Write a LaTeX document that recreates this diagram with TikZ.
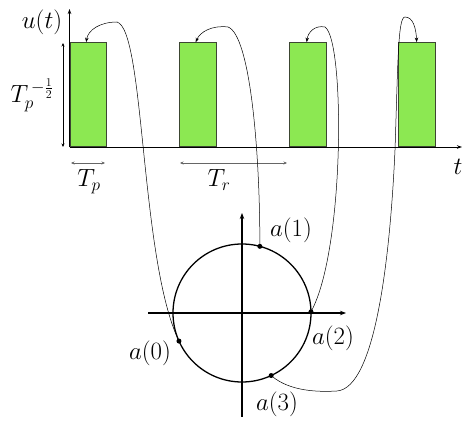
\documentclass[tikz,border=0pt]{standalone}
\usetikzlibrary{arrows.meta,calc}
\definecolor{bargreen}{RGB}{140,232,82}
\definecolor{barline}{RGB}{60,70,50}
\begin{document}
\begin{tikzpicture}[x=1pt,y=-1pt,
  bar/.style={draw=barline,fill=bargreen,line width=0.9pt},
  axis/.style={line width=0.9pt,-{Stealth[length=5pt,width=3.5pt]}},
  caxis/.style={line width=1.3pt,-{Stealth[length=6pt,width=4.5pt]}},
  link/.style={line width=0.5pt,-{Stealth[length=4.5pt,width=3.5pt]}},
  dim/.style={line width=0.5pt,draw=black!60,{Stealth[length=3.5pt,width=3pt]}-{Stealth[length=3.5pt,width=3pt]}},
  lbl/.style={font=\fontsize{25}{28}\selectfont,inner sep=0pt},
  albl/.style={font=\fontsize{24}{28}\selectfont,inner sep=0pt},
  pt/.style={circle,fill=black,inner sep=0pt,minimum size=5pt}]
\useasboundingbox (0,0) rectangle (474,443);
% bars
\node[bar,minimum width=36.5pt,minimum height=104pt,inner sep=0pt,anchor=south west] (b1) at (69.5,147) {};
\node[bar,minimum width=36.5pt,minimum height=104pt,inner sep=0pt,anchor=south west] (b2) at (179,147) {};
\node[bar,minimum width=36.5pt,minimum height=104pt,inner sep=0pt,anchor=south west] (b3) at (289,147) {};
\node[bar,minimum width=36.5pt,minimum height=104pt,inner sep=0pt,anchor=south west] (b4) at (398,147) {};
% axes of the signal
\coordinate (o) at (69.5,147);
\coordinate (ytop) at (69.5,9);
\coordinate (xend) at (462,147);
\draw[axis] (o) -- (ytop);
\draw[axis] (o) -- (xend);
\node[lbl] (ut) at (42,22) {$u(t)$};
\node[font=\fontsize{27}{30}\selectfont,inner sep=0pt] (tl) at (458,167) {$t$};
% amplitude
\coordinate (h1) at (63,43);
\coordinate (h2) at (63,147);
\draw[dim,draw=black] (h1) -- (h2);
\node[lbl] (amp) at (32,95) {$T_p^{\,-\frac{1}{2}}$};
% widths
\coordinate (tp1) at (71,163);
\coordinate (tp2) at (105,163);
\draw[dim] (tp1) -- (tp2);
\node[lbl] (tpl) at (89,182) {$T_p$};
\coordinate (tr1) at (180,163);
\coordinate (tr2) at (287,163);
\draw[dim] (tr1) -- (tr2);
\node[lbl] (trl) at (219,180) {$T_r$};
% circle diagram
\coordinate (c) at (242,313);
\coordinate (vb) at (242,417);
\coordinate (vt) at (242,213);
\coordinate (hl) at (148,313);
\coordinate (hr) at (346,313);
\draw[caxis] (vb) -- (vt);
\draw[caxis] (hl) -- (hr);
\draw[line width=1.3pt] (c) circle[radius=69pt];
\node[pt] (a0) at ($(c)+(204:69pt)$) {};
\node[pt] (a1) at ($(c)+(75:69pt)$) {};
\node[pt] (a2) at ($(c)+(1:69pt)$) {};
\node[pt] (a3) at ($(c)+(295:69pt)$) {};
\node[albl] (l0) at (150,353) {$a(0)$};
\node[albl] (l1) at (291,230) {$a(1)$};
\node[albl] (l2) at (333,338) {$a(2)$};
\node[albl] (l3) at (277,404) {$a(3)$};
% links
\coordinate (p1) at (117,22);
\coordinate (p2) at (228,27);
\coordinate (p3) at (325,27);
\coordinate (q4) at (337,391);
\coordinate (r4) at (395,150);
\coordinate (p4) at (405,17);
\draw[link] (a0.center) .. controls (140,260) and (145,30) .. (p1)
  .. controls (100,22) and (88,30) .. ([xshift=-2pt]b1.north);
\draw[link] (a1.center) .. controls (260,150) and (250,35) .. (p2)
  .. controls (212,25) and (200,32) .. ([xshift=-2pt]b2.north);
\draw[link] (a2.center) .. controls (345,250) and (345,40) .. (p3)
  .. controls (315,25) and (308,32) .. ([xshift=-1pt]b3.north);
\draw[link] (a3.center) .. controls (290,392) and (320,392) .. (q4)
  .. controls (375,388) and (390,260) .. (r4)
  .. controls (398,60) and (398,17) .. (p4)
  .. controls (413,17) and (416,28) .. (b4.north);
\end{tikzpicture}
\end{document}
